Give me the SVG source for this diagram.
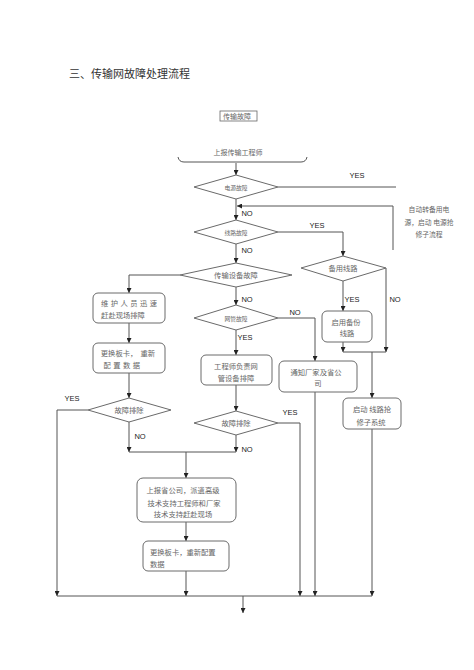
<svg xmlns="http://www.w3.org/2000/svg" width="474" height="670" viewBox="0 0 474 670">
<defs>
<marker id="ah" viewBox="0 0 6 6" refX="6" refY="3" markerWidth="5" markerHeight="5" markerUnits="userSpaceOnUse" orient="auto">
<path d="M0,0 L6,3 L0,6 z" fill="#222"/>
</marker>
<style>
.bx{fill:#fff;stroke:#6a6a6a;stroke-width:1}
.dm{fill:#fff;stroke:#6a6a6a;stroke-width:1}
.ln{fill:none;stroke:#555;stroke-width:1}
.ar{fill:none;stroke:#555;stroke-width:1;marker-end:url(#ah)}
.cn{font-family:"Noto Sans CJK SC","Noto Sans CJK TC",sans-serif;font-size:7.3px;fill:#666;text-anchor:middle;dominant-baseline:central}
.sm{font-size:5.8px}
.lb{font-family:"Liberation Sans",Arial,sans-serif;font-size:7.5px;fill:#222;text-anchor:middle;dominant-baseline:central}
</style>
</defs>
<rect width="474" height="670" fill="#fff"/>
<text x="69" y="73" style="font-family:'Noto Sans CJK SC',sans-serif;font-size:11px;fill:#333;dominant-baseline:central">三、传输网故障处理流程</text>

<g id="connectors">
<path class="ar" d="M236,163 V175"/>
<path class="ln" d="M278,187 H396"/>
<path class="ar" d="M393,250 V206 H237"/>
<path class="ar" d="M236,199 V220"/>
<path class="ar" d="M236,244 V263"/>
<path class="ar" d="M278,232 H343 V256"/>
<path class="ar" d="M180,275 H129 V293"/>
<path class="ar" d="M236,287 V305"/>
<path class="ar" d="M278,318 H315 V361"/>
<path class="ar" d="M236,330 V355"/>
<path class="ar" d="M129,323 V343"/>
<path class="ar" d="M129,373 V398"/>
<path class="ar" d="M236,385 V411"/>
<path class="ar" d="M343,281 V311"/>
<path class="ar" d="M386,268 V352"/>
<path class="ar" d="M343,342 V352"/>
<path class="ln" d="M343,352 H386"/>
<path class="ar" d="M372,352 V398"/>
<path class="ar" d="M88,410 H57 V596"/>
<path class="ar" d="M129,422 V452"/>
<path class="ar" d="M236,435 V452"/>
<path class="ln" d="M129,452 H236"/>
<path class="ar" d="M186,452 V478"/>
<path class="ar" d="M186,522 V541"/>
<path class="ar" d="M186,571 V596"/>
<path class="ar" d="M278,423 H300 V596"/>
<path class="ar" d="M315,392 V596"/>
<path class="ar" d="M372,429 V596"/>
<path class="ln" d="M57,596 H372"/>
<path class="ar" d="M243,596 V613"/>
<text class="lb" x="357" y="175">YES</text>
<text class="lb" x="247" y="213">NO</text>
<text class="lb" x="317" y="225">YES</text>
<text class="lb" x="247" y="250">NO</text>
<text class="lb" x="247" y="299">NO</text>
<text class="lb" x="245" y="337">YES</text>
<text class="lb" x="295" y="312">NO</text>
<text class="lb" x="352" y="299">YES</text>
<text class="lb" x="395" y="299">NO</text>
<text class="lb" x="72" y="398">YES</text>
<text class="lb" x="140" y="436">NO</text>
<text class="lb" x="290" y="412">YES</text>
<text class="lb" x="247" y="449">NO</text>
</g>

<g id="n-title">
<rect x="220" y="111" width="37" height="10" fill="none" stroke="#666" stroke-width="0.8"/>
<text class="cn" x="237" y="116" style="font-size:7px">传输故障</text>
</g>

<g id="n-report">
<text class="cn" x="238" y="152" style="font-size:7px">上报传输工程师</text>
<path class="ln" d="M178,157 Q179,162 184,162 H301 Q306,162 307,157"/>
</g>

<g id="n-power">
<polygon class="dm" points="236,175 278,187 236,199 194,187"/>
<text class="cn sm" x="236" y="187">电源故障</text>
</g>

<g id="n-power-note">
<text class="cn" x="429" y="209" style="font-size:6.8px">自动转备用电</text>
<text class="cn" x="429" y="222" style="font-size:6.8px">源，启动 电源抢</text>
<text class="cn" x="429" y="234" style="font-size:6.8px">修子流程</text>
</g>

<g id="n-line">
<polygon class="dm" points="236,220 278,232 236,244 194,232"/>
<text class="cn sm" x="236" y="232">线路故障</text>
</g>

<g id="n-equip">
<polygon class="dm" points="236,263 292,275 236,287 180,275"/>
<text class="cn" x="236" y="275">传输设备故障</text>
</g>

<g id="n-backup">
<polygon class="dm" points="343,256 386,268 343,281 301,268"/>
<text class="cn" x="343" y="268">备用线路</text>
</g>

<g id="n-nms">
<polygon class="dm" points="236,305 278,318 236,330 194,318"/>
<text class="cn sm" x="236" y="318">网管故障</text>
</g>

<g id="n-maint">
<rect class="bx" x="93" y="293" width="72" height="30" rx="5"/>
<text class="cn" x="129" y="303" textLength="56" lengthAdjust="spacing">维护人员迅速</text>
<text class="cn" x="123" y="315">赶赴现场排障</text>
</g>

<g id="n-swap1">
<rect class="bx" x="93" y="343" width="72" height="30" rx="5"/>
<text class="cn" x="128" y="353" xml:space="preserve">更换板卡，  重新</text>
<text class="cn" x="123" y="365" style="letter-spacing:2.4px">配置数据</text>
</g>

<g id="n-eng">
<rect class="bx" x="201" y="355" width="71" height="30" rx="5"/>
<text class="cn" x="236" y="366">工程师负责网</text>
<text class="cn" x="236" y="378">管设备排障</text>
</g>

<g id="n-enable">
<rect class="bx" x="322" y="311" width="50" height="31" rx="5"/>
<text class="cn" x="346" y="322">启用备份</text>
<text class="cn" x="347" y="333">线路</text>
</g>

<g id="n-notify">
<rect class="bx" x="279" y="361" width="78" height="31" rx="5"/>
<text class="cn" x="316" y="372">通知厂家及省公</text>
<text class="cn" x="318" y="383">司</text>
</g>

<g id="n-repair">
<rect class="bx" x="343" y="398" width="58" height="31" rx="5"/>
<text class="cn" x="372" y="409" xml:space="preserve">启动 线路抢</text>
<text class="cn" x="371" y="422">修子系统</text>
</g>

<g id="n-check1">
<polygon class="dm" points="129,398 171,410 129,422 88,410"/>
<text class="cn" x="129" y="410">故障排除</text>
</g>

<g id="n-check2">
<polygon class="dm" points="236,411 278,423 236,435 194,423"/>
<text class="cn" x="236" y="423">故障排除</text>
</g>

<g id="n-escalate">
<rect class="bx" x="137" y="478" width="99" height="44" rx="6"/>
<text class="cn" x="183" y="490">上报省公司，派遣高级</text>
<text class="cn" x="184" y="503">技术支持工程师和厂家</text>
<text class="cn" x="183" y="514">技术支持赶赴现场</text>
</g>

<g id="n-swap2">
<rect class="bx" x="143" y="541" width="86" height="30" rx="5"/>
<text class="cn" x="150" y="552" style="text-anchor:start">更换板卡，重新配置</text>
<text class="cn" x="150" y="564" style="text-anchor:start">数据</text>
</g>
</svg>
